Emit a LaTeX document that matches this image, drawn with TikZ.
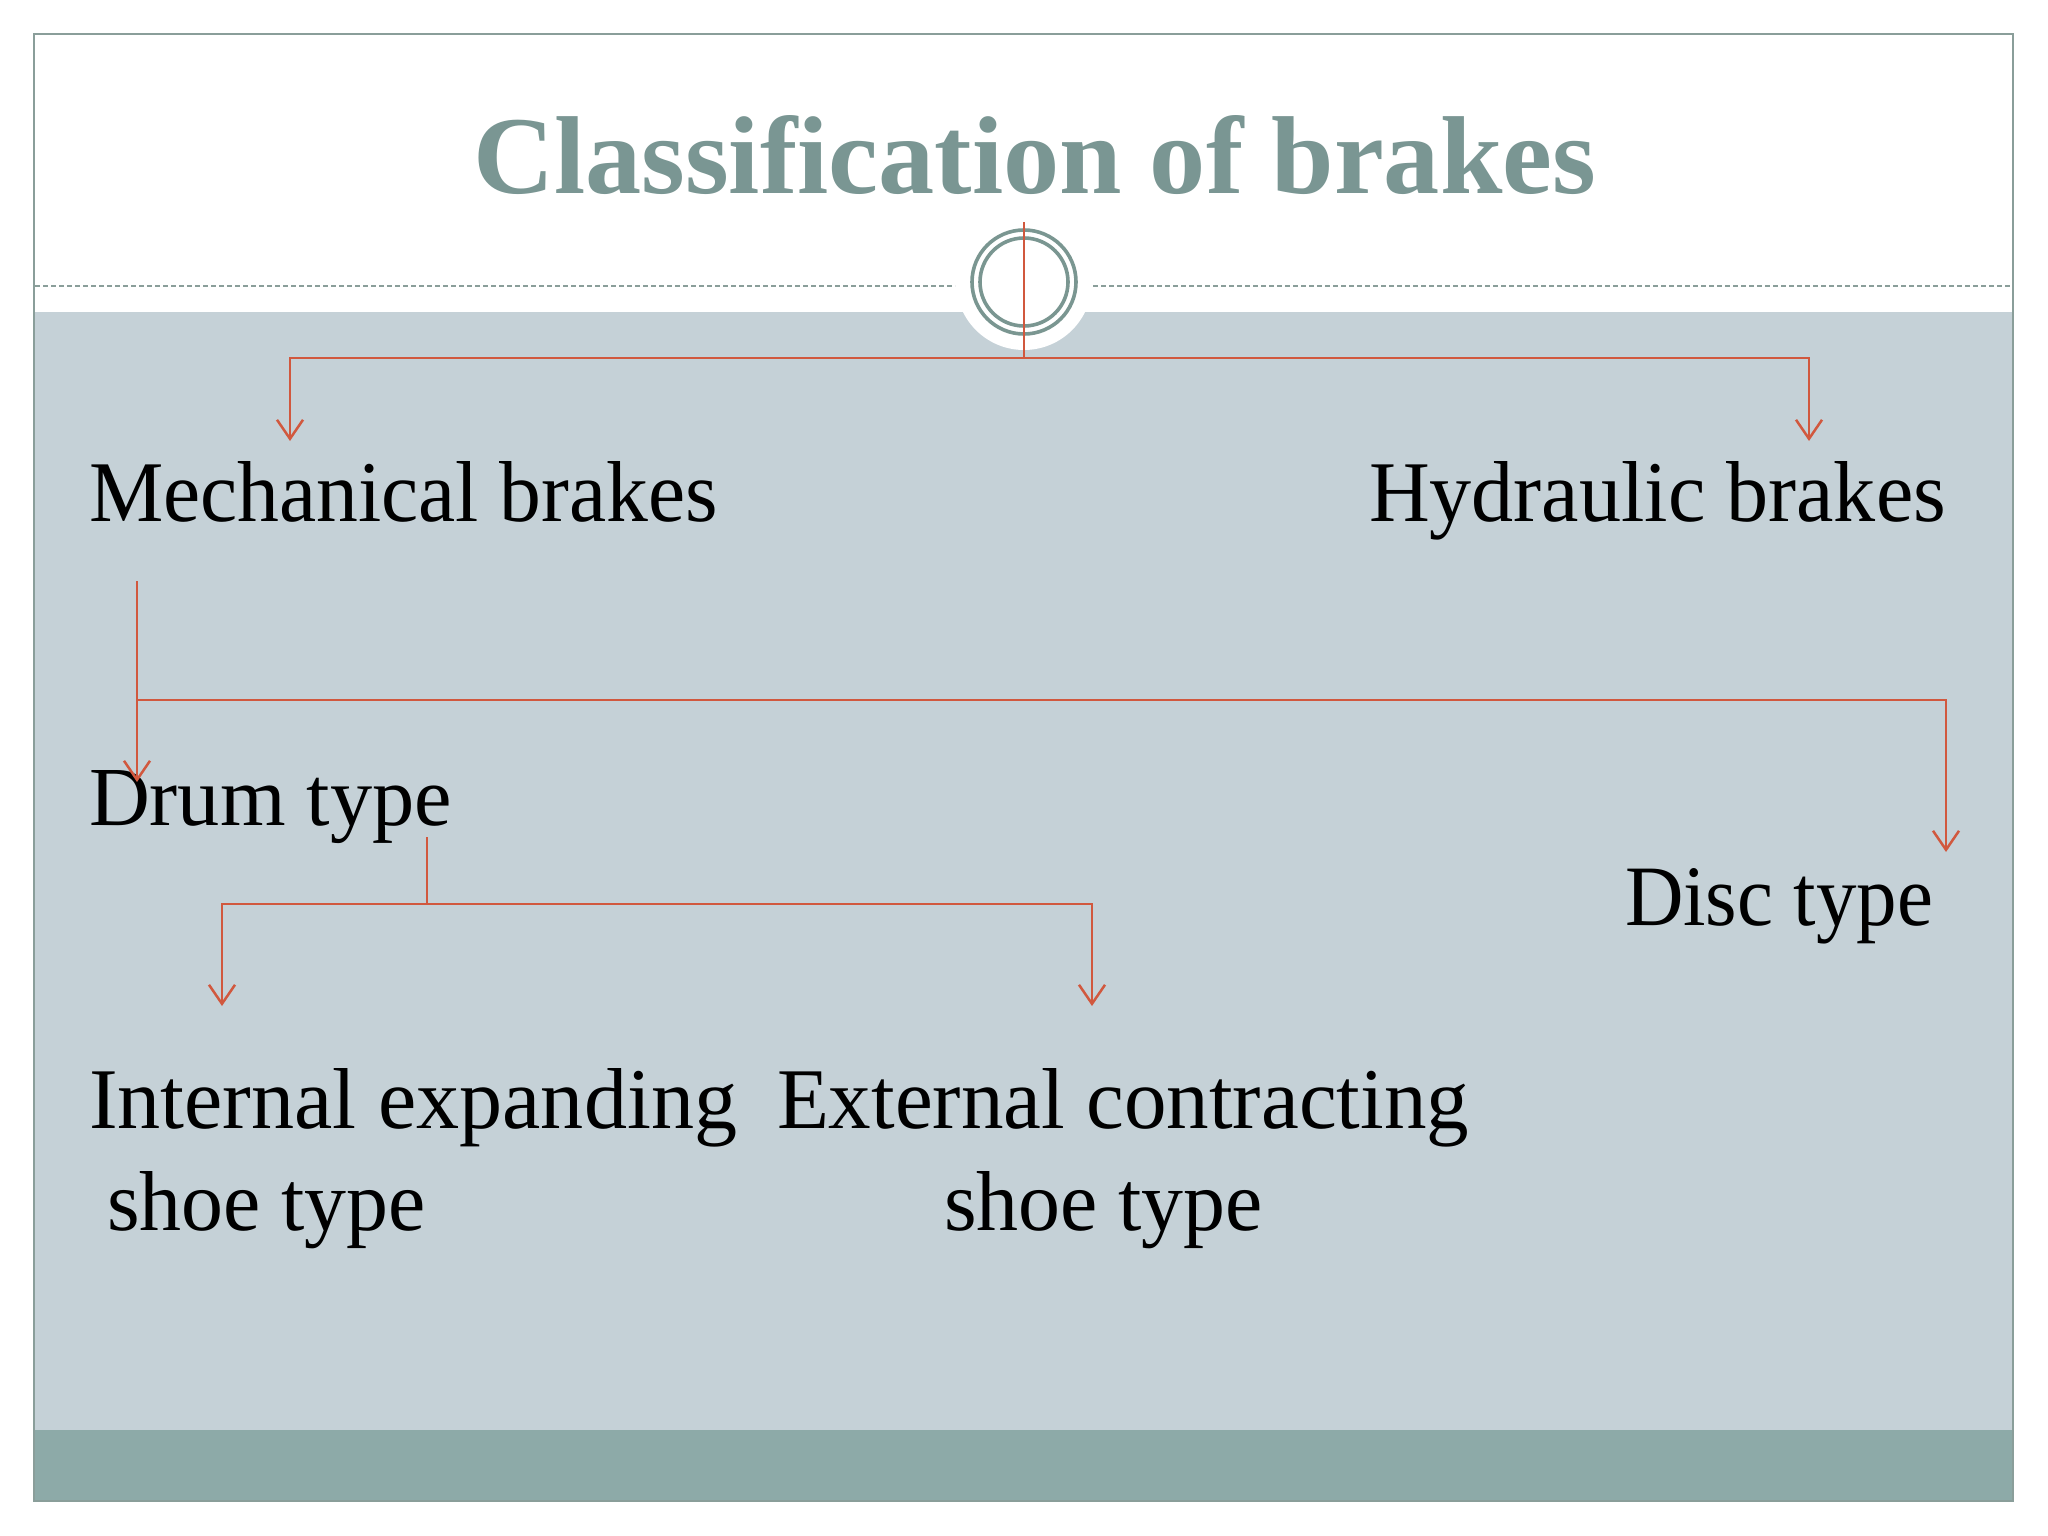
\documentclass[tikz,border=0pt]{standalone}
\usepackage{fontspec}
\setmainfont{Liberation Serif}
\usetikzlibrary{arrows.meta}
\definecolor{bodygray}{RGB}{197,209,215}
\definecolor{bandteal}{RGB}{141,170,168}
\definecolor{frameteal}{RGB}{138,158,154}
\definecolor{titleteal}{RGB}{122,150,147}
\definecolor{ringteal}{RGB}{122,150,145}
\definecolor{brakered}{RGB}{209,88,62}
\tikzset{
  lbl/.style={anchor=base west, inner sep=0pt, outer sep=0pt, text=black,
    font=\fontsize{80pt}{96pt}\selectfont},
  ttl/.style={anchor=base west, inner sep=0pt, outer sep=0pt, text=titleteal,
    font=\fontsize{110pt}{130pt}\selectfont\bfseries},
  redline/.style={draw=brakered, line width=2.5pt},
  redarrow/.style={redline, -{Straight Barb[length=19pt,width=26pt]}},
  framestyle/.style={draw=frameteal, line width=2pt},
  dashline/.style={draw=frameteal, line width=1.6pt, dash pattern=on 5pt off 3pt},
  ring/.style={draw=ringteal, line width=3.6pt}
}
\begin{document}
\begin{tikzpicture}[x=1pt,y=-1pt]
\useasboundingbox (0,0) rectangle (2048,1536);
% background
\fill[white] (0,0) rectangle (2048,1536);
\fill[bodygray] (34,312) rectangle (2013,1430);
\fill[bandteal] (34,1430) rectangle (2013,1501);
\draw[framestyle] (34,34) rectangle (2013,1501);
\draw[dashline] (35,286) -- (955,286);
\draw[dashline] (1093,286) -- (2012,286);
\fill[white] (1024,282) circle[radius=68pt];
\draw[ring] (1024,282) circle[radius=52pt];
\draw[ring] (1024,282) circle[radius=44pt];
% title
\node[ttl] (title) at (473,193) {\resizebox{1123pt}{78pt}{Classification of brakes}};
% labels
\node[lbl] (mech) at (89,521) {\resizebox{629pt}{60pt}{Mechanical brakes}};
\node[lbl] (hydr) at (1369,521) {\resizebox{577pt}{60pt}{Hydraulic brakes}};
\node[lbl] (drum) at (89,825) {\resizebox{363pt}{55pt}{Drum type}};
\node[lbl] (disc) at (1625,925) {\resizebox{308pt}{57pt}{Disc type}};
\node[lbl] (int1) at (89,1128) {\resizebox{648pt}{60pt}{Internal expanding}};
\node[lbl] (int2) at (107,1230) {\resizebox{319pt}{59pt}{shoe type}};
\node[lbl] (ext1) at (777,1128) {\resizebox{692pt}{60pt}{External contracting}};
\node[lbl] (ext2) at (944,1230) {\resizebox{319pt}{59pt}{shoe type}};
% connector coordinates
\coordinate (top) at (1024,222);
\coordinate (topjoin) at (1024,358);
\coordinate (mechtip) at (290,441);
\coordinate (hydrtip) at (1809,441);
\coordinate (mechout) at (137,581);
\coordinate (mechjoin) at (137,700);
\coordinate (drumtip) at (137,782);
\coordinate (disctip) at (1946,852);
\coordinate (drumout) at (427,837);
\coordinate (drumjoin) at (427,904);
\coordinate (inttip) at (222,1006);
\coordinate (exttip) at (1092,1006);
% connectors
\draw[redline] (top) -- (topjoin);
\draw[redarrow] (topjoin) -| (mechtip);
\draw[redarrow] (topjoin) -| (hydrtip);
\draw[redarrow] (mechout) -- (drumtip);
\draw[redarrow] (mechjoin) -| (disctip);
\draw[redline] (drumout) -- (drumjoin);
\draw[redarrow] (drumjoin) -| (inttip);
\draw[redarrow] (drumjoin) -| (exttip);
\end{tikzpicture}
\end{document}
